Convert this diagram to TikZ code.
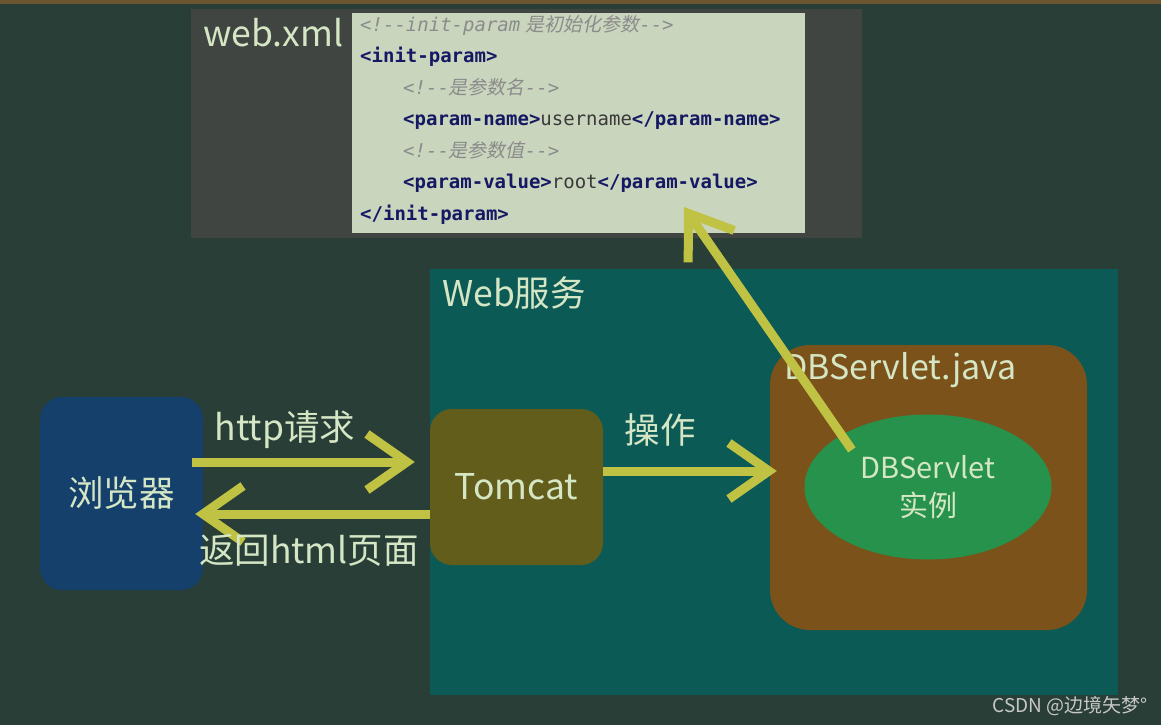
\documentclass[tikz,border=0pt]{standalone}
\usepackage{fontspec}
\setmainfont{Noto Sans CJK SC}
\setmonofont{DejaVu Sans Mono}
\newfontfamily\cjkit[FakeSlant=0.2]{Noto Sans CJK SC}
\usetikzlibrary{arrows.meta,
                shapes.geometric,
                calc}
\definecolor{board}{HTML}{283E37}
\definecolor{frame}{HTML}{6B5631}
\definecolor{xmlgrey}{HTML}{414541}
\definecolor{codebg}{HTML}{C9D5BD}
\definecolor{webteal}{HTML}{0B5A55}
\definecolor{browserblue}{HTML}{14406B}
\definecolor{tomcatolive}{HTML}{635D1B}
\definecolor{servletbrown}{HTML}{7B5219}
\definecolor{instgreen}{HTML}{27924B}
\definecolor{chalkarrow}{HTML}{BFC243}
\definecolor{chalk}{HTML}{D5E6C5}
\definecolor{tagblue}{HTML}{151863}
\definecolor{cmtgrey}{HTML}{8B8B8B}
\definecolor{valgrey}{HTML}{3A3A3A}
\definecolor{wmgrey}{HTML}{C8C8C8}
\newcommand{\xtag}[1]{{\color{tagblue}\bfseries #1}}
\newcommand{\xcmt}[1]{{\color{cmtgrey}\itshape #1}}
\newcommand{\xcn}[1]{{\upshape\cjkit #1}}

\begin{document}
\begin{tikzpicture}[x=1pt,y=-1pt,
                    panel/.style={inner sep=0pt,anchor=north west},
                    box/.style={rounded corners=22pt,inner sep=0pt},
                    lbl/.style={text=chalk,inner sep=0pt,font=\fontsize{35.5}{40}\selectfont},
                    flow/.style={draw=chalkarrow,line width=9pt,
                                 -{Straight Barb[length=40pt,width=56pt]}}]
   \fill [board] (0,0) rectangle (1161,725);
   \useasboundingbox (0,0) rectangle (1161,725);
   \fill [frame] (0,0) rectangle (1161,4);
   % web.xml
   \node [panel,fill=xmlgrey,minimum width=671pt,minimum height=229pt] (xmlpanel) at (191,9) {};
   \node [panel,fill=codebg,minimum width=453pt,minimum height=220pt] (code) at (352,13) {};
   \node [lbl,anchor=west] (xmlname) at (203,33) {web.xml};
   \node [anchor=north west,align=left,inner sep=0pt,text=valgrey,
          font=\ttfamily\fontsize{19}{31.5}\selectfont] (codetext) at (360,15)
     {\xcmt{<!--init-param\hspace{5pt}\xcn{是初始化参数}-->}\\
      \xtag{<init-param>}\\
      \hspace*{43pt}\xcmt{<!--\xcn{是参数名}-->}\\
      \hspace*{43pt}\xtag{<param-name>}username\xtag{</param-name>}\\
      \hspace*{43pt}\xcmt{<!--\xcn{是参数值}-->}\\
      \hspace*{43pt}\xtag{<param-value>}root\xtag{</param-value>}\\
      \xtag{</init-param>}};
   \coordinate (xmltip) at (684,207);
   % web service
   \node [panel,fill=webteal,minimum width=688pt,minimum height=426pt] (websvc) at (430,269) {};
   \node [lbl,anchor=west] (websvcname) at (442,293) {Web服务};
   \node [box,lbl,fill=browserblue,minimum width=163pt,minimum height=193pt] (browser) at (121.5,493.5) {浏览器};
   \node [box,lbl,fill=tomcatolive,minimum width=173pt,minimum height=156pt] (tomcat) at (516.5,487) {Tomcat};
   \node [box,rounded corners=40pt,fill=servletbrown,minimum width=317pt,minimum height=285pt] (dbjava) at (928.5,487.5) {};
   \node [lbl,anchor=west,font=\fontsize{34}{40}\selectfont] (dbjavaname) at (784,370) {DBServlet.java};
   \node [ellipse,fill=instgreen,inner sep=0pt,minimum width=247pt,minimum height=145pt,
          align=center,text=chalk,font=\fontsize{29}{38}\selectfont] (dbinst) at (928,487) {DBServlet\\实例};
   % connectors
   \draw [flow] ([xshift=-11pt,yshift=31.5pt]browser.east) -- ([xshift=-15pt,yshift=25pt]tomcat.west);
   \draw [flow] ([yshift=-27pt]tomcat.west) -- ([xshift=-8pt,yshift=-20.5pt]browser.east);
   \draw [flow] ([yshift=16pt]tomcat.east) -- ([xshift=7pt,yshift=16.5pt]dbjava.west);
   \draw [flow] ($(dbinst.center)!0.8!(dbinst.154)$) -- (xmltip);
   \node [lbl] (httplbl) at (285,430) {http请求};
   \node [lbl] (backlbl) at (309,550) {返回html页面};
   \node [lbl] (oplbl) at (660,430) {操作};
   \node [anchor=east,inner sep=0pt,text=wmgrey,font=\fontsize{19}{22}\selectfont] (csdn) at (1148,706) {CSDN @边境矢梦°};
\end{tikzpicture}
\end{document}
